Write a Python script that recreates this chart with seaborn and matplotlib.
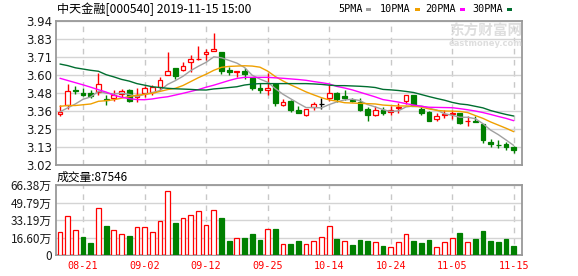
import numpy as np
import pandas as pd
import matplotlib
matplotlib.use("Agg")
import matplotlib.pyplot as plt
import matplotlib.patches as mpatches
import seaborn as sns

# ---------------- data ----------------
dates = ["08-16", "08-19", "08-20", "08-21", "08-22", "08-23", "08-26", "08-27", "08-28", "08-29",
         "08-30", "09-02", "09-03", "09-04", "09-05", "09-06", "09-09", "09-10", "09-11", "09-12",
         "09-16", "09-17", "09-18", "09-19", "09-20", "09-23", "09-24", "09-25", "09-26", "09-27",
         "09-30", "10-08", "10-09", "10-10", "10-11", "10-14", "10-15", "10-16", "10-17", "10-18",
         "10-21", "10-22", "10-23", "10-24", "10-25", "10-28", "10-29", "10-30", "10-31", "11-01",
         "11-04", "11-05", "11-06", "11-07", "11-08", "11-11", "11-12", "11-13", "11-14", "11-15"]

open_ = [3.343, 3.401, 3.500, 3.480, 3.480, 3.486, 3.444, 3.448, 3.474, 3.499,
         3.456, 3.482, 3.484, 3.516, 3.593, 3.640, 3.625, 3.676, 3.695, 3.727,
         3.748, 3.742, 3.629, 3.615, 3.622, 3.576, 3.513, 3.496, 3.537, 3.401,
         3.426, 3.371, 3.341, 3.392, 3.410, 3.445, 3.481, 3.462, 3.434, 3.424,
         3.379, 3.341, 3.371, 3.360, 3.381, 3.426, 3.466, 3.378, 3.357, 3.311,
         3.340, 3.348, 3.352, 3.300, 3.304, 3.282, 3.167, 3.150, 3.151, 3.132]
high = [3.405, 3.537, 3.525, 3.512, 3.500, 3.608, 3.465, 3.497, 3.506, 3.503,
        3.510, 3.525, 3.531, 3.584, 3.744, 3.642, 3.678, 3.721, 3.780, 3.763,
        3.861, 3.744, 3.649, 3.620, 3.638, 3.578, 3.547, 3.609, 3.540, 3.440,
        3.435, 3.400, 3.378, 3.424, 3.446, 3.528, 3.486, 3.499, 3.446, 3.445,
        3.391, 3.394, 3.388, 3.398, 3.414, 3.467, 3.467, 3.389, 3.362, 3.351,
        3.371, 3.371, 3.353, 3.330, 3.333, 3.283, 3.183, 3.180, 3.170, 3.139]
low = [3.331, 3.380, 3.472, 3.459, 3.448, 3.469, 3.401, 3.431, 3.453, 3.425,
       3.425, 3.456, 3.467, 3.499, 3.593, 3.571, 3.622, 3.612, 3.690, 3.693,
       3.746, 3.601, 3.592, 3.584, 3.567, 3.501, 3.479, 3.467, 3.395, 3.400,
       3.361, 3.354, 3.333, 3.373, 3.376, 3.426, 3.424, 3.434, 3.424, 3.365,
       3.304, 3.334, 3.339, 3.338, 3.355, 3.410, 3.397, 3.339, 3.298, 3.303,
       3.318, 3.314, 3.282, 3.272, 3.292, 3.162, 3.133, 3.127, 3.113, 3.095]
close = [3.357, 3.491, 3.495, 3.469, 3.463, 3.537, 3.433, 3.469, 3.491, 3.427,
         3.465, 3.510, 3.516, 3.563, 3.619, 3.587, 3.651, 3.697, 3.700, 3.744,
         3.761, 3.622, 3.611, 3.619, 3.603, 3.512, 3.500, 3.512, 3.413, 3.421,
         3.371, 3.354, 3.378, 3.410, 3.410, 3.479, 3.440, 3.445, 3.430, 3.373,
         3.341, 3.370, 3.355, 3.373, 3.391, 3.466, 3.400, 3.355, 3.303, 3.333,
         3.345, 3.352, 3.290, 3.303, 3.292, 3.181, 3.151, 3.145, 3.132, 3.114]

ma5 = [3.360, 3.385, 3.410, 3.440, 3.455, 3.491, 3.479, 3.474, 3.479, 3.471,
       3.457, 3.472, 3.482, 3.496, 3.535, 3.559, 3.587, 3.623, 3.651, 3.676,
       3.711, 3.705, 3.688, 3.671, 3.643, 3.593, 3.569, 3.549, 3.508, 3.472,
       3.443, 3.414, 3.387, 3.387, 3.385, 3.406, 3.423, 3.436, 3.440, 3.432,
       3.406, 3.391, 3.374, 3.362, 3.366, 3.391, 3.397, 3.397, 3.383, 3.371,
       3.347, 3.338, 3.325, 3.325, 3.316, 3.284, 3.243, 3.214, 3.180, 3.145]
ma10 = [3.395, 3.400, 3.400, 3.405, 3.410, 3.427, 3.431, 3.437, 3.447, 3.457,
        3.466, 3.471, 3.478, 3.490, 3.502, 3.510, 3.528, 3.553, 3.578, 3.600,
        3.625, 3.644, 3.650, 3.652, 3.654, 3.652, 3.645, 3.620, 3.585, 3.557,
        3.532, 3.510, 3.487, 3.468, 3.450, 3.436, 3.428, 3.418, 3.416, 3.414,
        3.412, 3.410, 3.403, 3.400, 3.397, 3.397, 3.396, 3.390, 3.378, 3.369,
        3.365, 3.364, 3.362, 3.355, 3.336, 3.318, 3.295, 3.275, 3.255, 3.233]
ma20 = [3.574, 3.560, 3.546, 3.532, 3.517, 3.501, 3.486, 3.466, 3.453, 3.444,
        3.438, 3.437, 3.442, 3.450, 3.456, 3.467, 3.478, 3.490, 3.502, 3.517,
        3.530, 3.545, 3.560, 3.573, 3.580, 3.580, 3.580, 3.580, 3.577, 3.574,
        3.570, 3.566, 3.561, 3.553, 3.546, 3.538, 3.522, 3.512, 3.500, 3.485,
        3.470, 3.455, 3.438, 3.430, 3.422, 3.412, 3.403, 3.395, 3.389, 3.388,
        3.387, 3.386, 3.380, 3.373, 3.365, 3.355, 3.343, 3.330, 3.318, 3.303]
ma30 = [3.665, 3.655, 3.641, 3.633, 3.625, 3.619, 3.597, 3.583, 3.567, 3.556,
        3.540, 3.530, 3.520, 3.515, 3.510, 3.507, 3.505, 3.503, 3.500, 3.499,
        3.506, 3.510, 3.515, 3.520, 3.531, 3.537, 3.540, 3.540, 3.540, 3.540,
        3.540, 3.540, 3.540, 3.538, 3.535, 3.530, 3.527, 3.527, 3.525, 3.523,
        3.520, 3.515, 3.503, 3.500, 3.496, 3.490, 3.483, 3.470, 3.457, 3.445,
        3.434, 3.420, 3.410, 3.405, 3.395, 3.385, 3.368, 3.355, 3.343, 3.333]

# volume in 万 (10k hands)
volume = [21.7, 37.0, 23.6, 16.9, 11.2, 44.4, 27.5, 23.6, 19.8, 17.9,
          26.2, 26.2, 21.7, 31.9, 60.6, 30.3, 34.8, 37.7, 41.5, 28.1,
          42.5, 35.1, 13.1, 15.7, 16.0, 19.8, 14.1, 24.3, 24.6, 10.9,
          10.9, 13.1, 10.9, 13.1, 16.6, 27.2, 15.0, 13.1, 9.3, 14.1,
          13.1, 11.9, 8.3, 8.0, 11.9, 19.5, 13.1, 11.2, 14.1, 8.0,
          11.9, 15.7, 20.8, 11.9, 15.0, 22.7, 13.1, 12.1, 15.0, 8.7546]

price_ticks = [3.02, 3.135, 3.25, 3.365, 3.48, 3.595, 3.71, 3.825, 3.94]
price_tick_labels = ["3.02", "3.13", "3.25", "3.36", "3.48", "3.60", "3.71", "3.83", "3.94"]
vol_ticks = [0, 16.595, 33.19, 49.785, 66.38]
vol_tick_labels = ["0", "16.60万", "33.19万", "49.79万", "66.38万"]
date_ticks = ["08-21", "09-02", "09-12", "09-25", "10-14", "10-24", "11-05", "11-15"]

title = "中天金融[000540] 2019-11-15 15:00"
ma_names = ["5PMA", "10PMA", "20PMA", "30PMA"]

# ---------------- style ----------------
sns.set_theme(style="white")
plt.rcParams["font.family"] = ["DejaVu Sans", "Noto Sans CJK SC"]

RED = "#ff0000"
GREEN = "#008000"
MA_COLORS = ["#a0a0a0", "#f0a000", "#ff00ff", "#006e30"]
FRAME = "#999999"
GRID = "#d4d4d4"
VGRID = "#c8c8c8"
TXT = "#1a1a1a"
CJK = ["Noto Sans CJK SC", "DejaVu Sans"]

df = pd.DataFrame({"date": dates, "open": open_, "high": high, "low": low,
                   "close": close, "ma5": ma5, "ma10": ma10, "ma20": ma20,
                   "ma30": ma30, "volume": volume})
df["x"] = np.arange(len(df))

W, H = 578, 276
fig = plt.figure(figsize=(W / 100, H / 100), dpi=100)
fig.patch.set_facecolor("white")

L, R = 56, 522
ax = fig.add_axes([L / W, (H - 165) / H, (R - L) / W, (165 - 21) / H])
axv = fig.add_axes([L / W, (H - 255) / H, (R - L) / W, (255 - 185) / H])

xlim = (-0.52, 60.08)
tick_pos = [dates.index(d) for d in date_ticks]

for a in (ax, axv):
    a.set_facecolor("white")
    a.set_xlim(*xlim)
    for s in a.spines.values():
        s.set_color(FRAME)
        s.set_linewidth(1.3)
    a.set_xticks(tick_pos)
    a.grid(axis="x", color=VGRID, linewidth=1.0, linestyle=(0, (4, 4)))
    a.grid(axis="y", color=GRID, linewidth=1.0, linestyle="-")
    a.set_axisbelow(True)
    a.tick_params(length=0)
    a.set_xlabel("")
    a.set_ylabel("")

# ---- candles ----
o = df["open"].to_numpy()
c = df["close"].to_numpy()
x = df["x"].to_numpy()
cand_col = np.where(c > o, RED, np.where(c < o, GREEN, "#000000"))
ax.vlines(x, df["low"], df["high"], colors=cand_col, linewidth=1.0, zorder=3)
body_bottom = np.minimum(o, c)
body_h = np.maximum(np.abs(c - o), 0.0015)
face = np.where(c > o, "white", cand_col)
ax.bar(x, body_h, bottom=body_bottom, width=0.62, color=face,
       edgecolor=cand_col, linewidth=0.9, zorder=4)

# ---- moving averages ----
for col, mc in zip(["ma5", "ma10", "ma20", "ma30"], MA_COLORS):
    sns.lineplot(data=df, x="x", y=col, ax=ax, color=mc, linewidth=1.0,
                 legend=False, zorder=5)

ax.set_ylim(3.02, 3.94)
ax.set_yticks(price_ticks)
ax.set_yticklabels(price_tick_labels, fontsize=8.5, color=TXT)
ax.set_xticklabels([])
ax.tick_params(axis="y", pad=3)
ax.set_xlabel("")
ax.set_ylabel("")

# ---- volume ----
prev = np.concatenate([[c[0] - 1], c[:-1]])
vol_up = c >= prev
vcol = np.where(vol_up, RED, GREEN)
vface = np.where(vol_up, "white", GREEN)
axv.bar(x, df["volume"], width=0.62, color=vface, edgecolor=vcol,
        linewidth=0.9, zorder=3)
axv.set_ylim(0, 66.38)
axv.set_yticks(vol_ticks)
axv.set_yticklabels(vol_tick_labels, fontsize=8.5, color=TXT, family=CJK)
axv.set_xticklabels(date_ticks, fontsize=7.3, color=RED, family="DejaVu Sans Mono")
axv.tick_params(axis="y", pad=3)
axv.tick_params(axis="x", pad=4)
axv.set_xlabel("")
axv.set_ylabel("")

# ---- texts ----
fig.text(57 / W, 1 - 9 / H, title, ha="left", va="center", fontsize=8.7,
         color="#000000", family=CJK)
fig.text(57 / W, 1 - 177 / H, "成交量:" + f"{volume[-1] * 10000:.0f}",
         ha="left", va="center", fontsize=8.5, color="#000000", family=CJK)

leg_x = [338, 380, 425, 472]
for name, lx, mc in zip(ma_names, leg_x, MA_COLORS):
    fig.text(lx / W, 1 - 9 / H, name, ha="left", va="center", fontsize=7.3,
             color="#000000", family="DejaVu Sans Mono")
    sw_x = lx + 6.1 * len(name) + 4
    fig.patches.append(mpatches.Rectangle((sw_x / W, 1 - 11 / H), 5 / W, 3 / H,
                                          transform=fig.transFigure,
                                          facecolor=mc, edgecolor="none"))

# watermark
fig.text(486 / W, 1 - 31 / H, "东方财富网", ha="center", va="center", fontsize=10.5,
         color="#dedede", family=CJK, fontweight="bold")
fig.text(486 / W, 1 - 43 / H, "eastmoney.com", ha="center", va="center", fontsize=6,
         color="#dedede", fontweight="bold")

fig.savefig("out.png", dpi=100, facecolor="white")
